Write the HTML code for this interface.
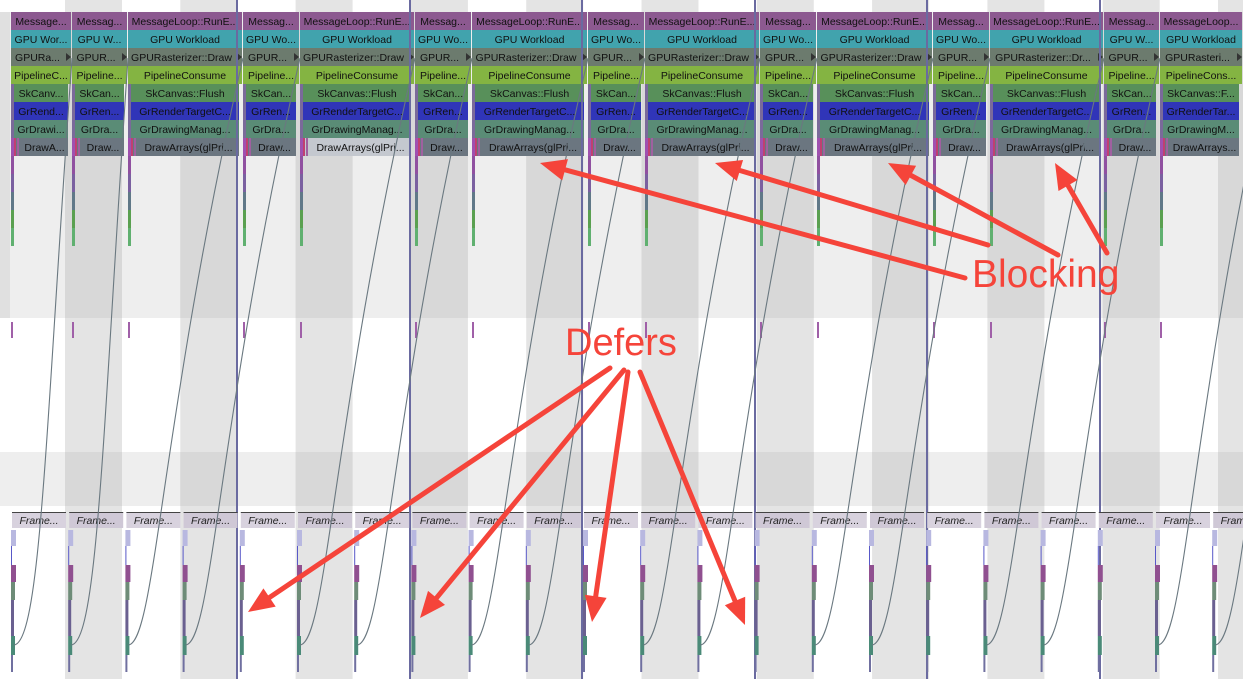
<!DOCTYPE html>
<html><head><meta charset="utf-8">
<style>
html,body{margin:0;padding:0;background:#fff;}
#wrap{position:relative;width:1243px;height:679px;overflow:hidden;font-family:"Liberation Sans",sans-serif;}
svg{position:absolute;left:0;top:0;}
</style></head>
<body>
<div id="wrap">
<svg id="chart" width="1243" height="679"></svg>
</div>
<script>
// data
const sliceStarts = [11,72,128,243,300,415,472,588,645,760,817,933,990,1104,1160];
const sliceEnds   = [72,128,243,300,415,472,588,645,760,817,933,990,1104,1160,1243];
const longLabels  = ["MessageLoop::RunEx...","GPU Workload","GPURasterizer::Draw","PipelineConsume","SkCanvas::Flush","GrRenderTargetC...","GrDrawingManag...","DrawArrays(glPri..."];
const rowColors   = ["#8c5990","#41a3ad","#6c7b6e","#84b442","#58905a","#3035b8","#5a8c76","#6b7680"];
const vLines      = [237,410,582,755,927,1100];
const frameCount  = 22;
const frameStart0 = 11;
const framePeriod = 57.2;
const blockingArrows = [[965,278,540,163],[988,245,715,163],[1058,255,888,163],[1107,253,1055,163]];
const defersArrows   = [[610,368,248,612],[624,370,420,618],[628,372,592,622],[640,372,745,625]];

const NS="http://www.w3.org/2000/svg";
const svg=document.getElementById('chart');
function mk(tag,attrs,parent){const e=document.createElementNS(NS,tag);for(const k in attrs)e.setAttribute(k,attrs[k]);(parent||svg).appendChild(e);return e;}
function fit(t,full,maxW){
  t.textContent=full;
  if(t.getComputedTextLength()<=maxW)return;
  let s=full.replace(/\.\.\.$/,'');
  while(s.length>1){s=s.slice(0,-1);t.textContent=s+'...';if(t.getComputedTextLength()<=maxW)return;}
}

// background bands
let g=mk('g',{});


mk('rect',{x:0,y:12,width:1243,height:306,fill:'#eeeeee'},g);
mk('rect',{x:0,y:452,width:1243,height:54,fill:'#eeeeee'},g);
for(let i=0;i<11;i++){
  const x=65+115.3*i;
  const r1=mk('rect',{x:x,y:0,width:57,height:679,fill:'#e4e4e4'},g);
  
  
  mk('rect',{x:x,y:12,width:57,height:306,fill:'#d8d8d8'},g);
  mk('rect',{x:x,y:452,width:57,height:54,fill:'#d8d8d8'},g);
}
mk('rect',{x:0,y:12,width:10,height:306,fill:'#e0e0e0'},g);

// slices
const sg=mk('g',{});


sliceStarts.forEach((s,i)=>{
  const e=sliceEnds[i];const w=e-s;
  for(let r=0;r<8;r++){
    const inset=r>=4?3:0;
    const y=12+r*18;
    let fill=rowColors[r];
    if(r===7&&i===4)fill='#c4c8cf';
    const rect=mk('rect',{x:s+inset,y:y,width:Math.max(2,w-1-inset*2),height:18,fill:fill},sg);
    
    
    let lx=s+inset, lw=w-1-inset*2;
    if(r>=4){mk('rect',{x:s,y:y,width:3,height:18,fill:r===7?'#a050b0':'#7a6a9a'},sg);}
    if(r===7){mk('rect',{x:s+3,y:y,width:2,height:18,fill:'#c04070'},sg);mk('rect',{x:s+6,y:y,width:2,height:18,fill:'#a060a0'},sg);lx=s+9;lw=w-12;}
    if(r===2){mk('path',{d:`M${e-6},${y+5} L${e-1},${y+9} L${e-6},${y+13}Z`,fill:'#333'},sg);lw-=7;}
    const t=mk('text',{x:lx+lw/2,y:y+13,'text-anchor':'middle','font-size':'10.5',fill:'#111'},sg);
    fit(t,longLabels[r],lw-6);
  }
  const cols=['#9050a0','#7a60a0','#607888','#5aa050','#60b070'];
  cols.forEach((c,k)=>mk('rect',{x:s,y:156+k*18,width:3,height:18,fill:c},sg));
  mk('rect',{x:s,y:322,width:2,height:16,fill:'#a060a8'},sg);
});

// vertical purple lines
vLines.forEach(x=>{const l=mk('rect',{x:x-1,y:0,width:2,height:679,fill:'#6a6aa0'});
  
  });

// frames
const fg=mk('g',{});


let topIdx=1;
const curveG=mk('g',{fill:'none',stroke:'#6a7880','stroke-width':'1.1'});


for(let i=0;i<frameCount;i++){
  const x0=frameStart0+framePeriod*i;
  mk('rect',{x:x0+1,y:512,width:54,height:16,fill:i%2?'#cfc8d6':'#d8d2de'},fg);
  mk('rect',{x:x0+1,y:512,width:54,height:1,fill:'#444'},fg);
  const ft=mk('text',{x:x0+28,y:524,'text-anchor':'middle','font-size':'10.5','font-style':'italic',fill:'#222'},fg);
  ft.textContent='Frame...';
  
  
  const bars=[[530,16,'#b8b8e0',5],[546,19,'#5858c8',1],[565,17,'#905090',5],[582,18,'#6e8c78',4],[600,36,'#6a6090',3],[636,19,'#4a8a78',4],[655,17,'#7070a0',2]];
  bars.forEach(b=>mk('rect',{x:x0,y:b[0],width:b[3],height:b[1],fill:b[2]},fg));
  const onLine=vLines.some(v=>Math.abs(v-x0)<6);
  if(!onLine){
    const xt=topIdx<sliceStarts.length?sliceStarts[topIdx]:x0+115;
    topIdx++;
    mk('path',{d:`M${x0+3},645 C${x0+30},642 ${x0+35},${420} ${xt},58`},curveG);
  }
}

// annotations
const ag=mk('g',{stroke:'#f5443a','stroke-width':'5',fill:'#f5443a','stroke-linecap':'round'});


function arrow(a){
  const [x1,y1,x2,y2]=a;const ang=Math.atan2(y2-y1,x2-x1);const L=26,W=11;
  const bx=x2-L*Math.cos(ang),by=y2-L*Math.sin(ang);
  mk('line',{x1:x1,y1:y1,x2:bx,y2:by},ag);
  const px=-Math.sin(ang)*W,py=Math.cos(ang)*W;
  mk('path',{d:`M${x2},${y2} L${bx+px},${by+py} L${bx-px},${by-py}Z`,stroke:'none'},ag);
}
blockingArrows.forEach(arrow);
defersArrows.forEach(arrow);
const bt=mk('text',{x:972,y:287,'font-size':'39',fill:'#f5443a',stroke:'none'},ag);
bt.textContent='Blocking';

const dt=mk('text',{x:565,y:355,'font-size':'38',fill:'#f5443a',stroke:'none'},ag);
dt.textContent='Defers';

</script>
</body></html>
